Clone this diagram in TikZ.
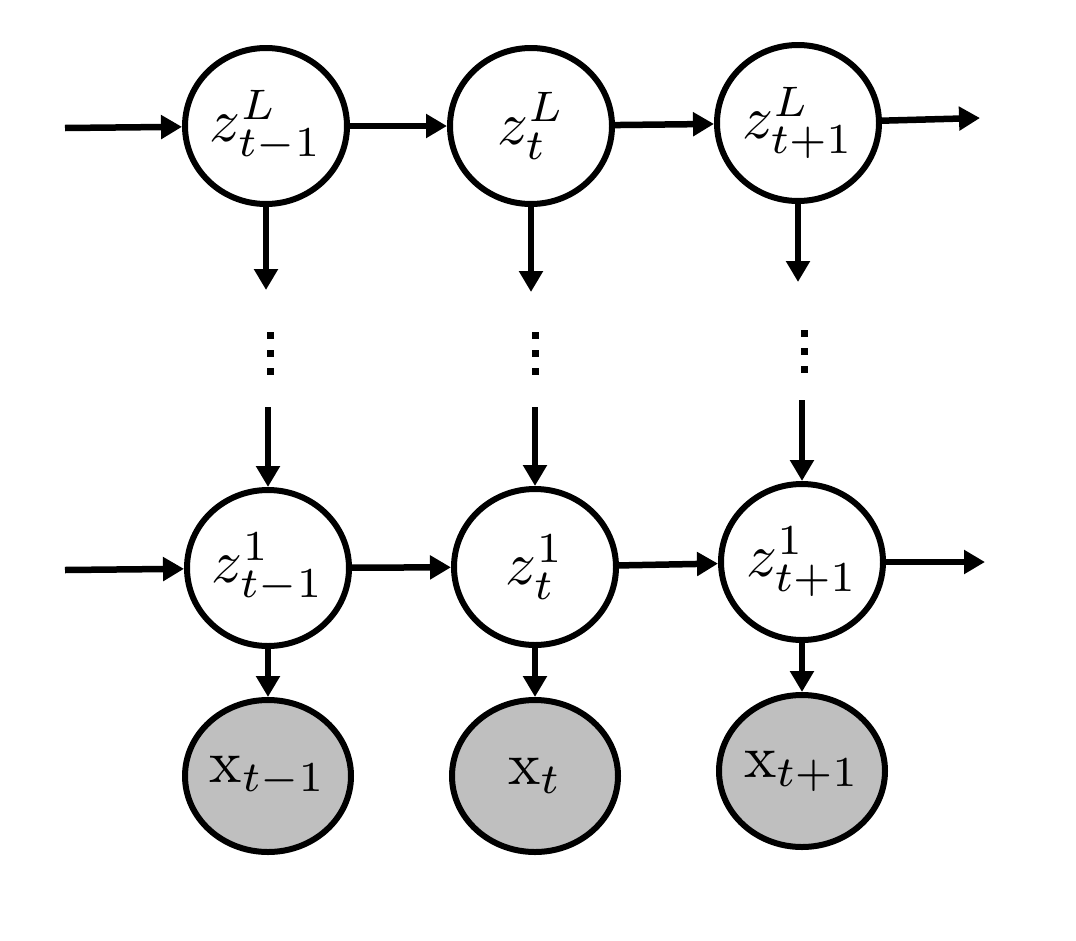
\documentclass[tikz,border=0pt]{standalone}
\usepackage{graphicx}
\usetikzlibrary{arrows.meta,shapes.geometric}
\definecolor{obsgray}{RGB}{191,191,191}
\newcommand{\biglbl}[1]{\scalebox{6.1}{$#1$}}
\begin{document}
\begin{tikzpicture}[x=1pt,y=-1pt,
  var/.style={ellipse,draw,line width=6pt,minimum width=162pt,minimum height=156pt,inner sep=0pt},
  obs/.style={var,fill=obsgray,minimum width=166pt,minimum height=152pt},
  edge/.style={line width=6.5pt,-{Triangle[length=21pt,width=23pt]}},
  vdotsq/.style={line width=7pt,dash pattern=on 7pt off 11pt},
]
\useasboundingbox (0,0) rectangle (1076,940);
% top row
\node[var] (a1) at (266,126) {\biglbl{z^{L}_{t-1}}};
\node[var] (a2) at (531,126) {\biglbl{z^{L}_{t}}};
\node[var] (a3) at (798,123) {\biglbl{z^{L}_{t+1}}};
% middle row
\node[var] (b1) at (268,568) {\biglbl{z^{1}_{t-1}}};
\node[var] (b2) at (535,567) {\biglbl{z^{1}_{t}}};
\node[var] (b3) at (802,562) {\biglbl{z^{1}_{t+1}}};
% observed
\node[obs] (c1) at (268,776) {\biglbl{\mathrm{x}_{t-1}}};
\node[obs] (c2) at (535,776) {\biglbl{\mathrm{x}_{t}}};
\node[obs] (c3) at (802,771) {\biglbl{\mathrm{x}_{t+1}}};
% free ends
\coordinate (inA) at (65,128);
\coordinate (outA) at (980,118);
\coordinate (inB) at (65,570);
\coordinate (outB) at (985,562);
\coordinate (da1) at (266,290);
\coordinate (da2) at (531,292);
\coordinate (da3) at (798,282);
\coordinate (ub1) at (268,407);
\coordinate (ub2) at (535,407);
\coordinate (ub3) at (802,400);
% horizontal
\draw[edge] (inA) -- (a1);
\draw[edge] (a1) -- (a2);
\draw[edge] (a2) -- (a3);
\draw[edge] (a3) -- (outA);
\draw[edge] (inB) -- (b1);
\draw[edge] (b1) -- (b2);
\draw[edge] (b2) -- (b3);
\draw[edge] (b3) -- (outB);
% vertical
\draw[edge] (a1) -- (da1);
\draw[edge] (a2) -- (da2);
\draw[edge] (a3) -- (da3);
\draw[vdotsq] (270,332) -- (270,377);
\draw[vdotsq] (535,332) -- (535,377);
\draw[vdotsq] (804,330) -- (804,375);
\draw[edge] (ub1) -- (b1);
\draw[edge] (ub2) -- (b2);
\draw[edge] (ub3) -- (b3);
\draw[edge] (b1) -- (c1);
\draw[edge] (b2) -- (c2);
\draw[edge] (b3) -- (c3);
\end{tikzpicture}
\end{document}
